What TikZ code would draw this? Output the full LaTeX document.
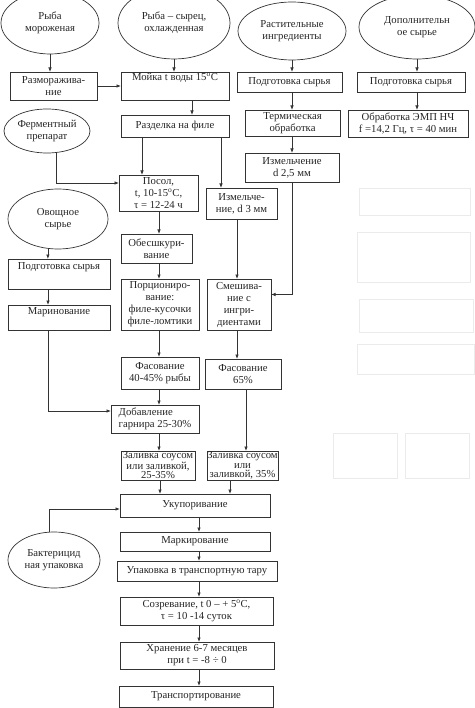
\documentclass[tikz,border=0pt]{standalone}
\usepackage{fontspec}
\setmainfont{Liberation Serif}
\usetikzlibrary{arrows.meta,shapes.geometric,calc}
\newcommand\fsz{\fontsize{10.7}{12}\selectfont}
\newcommand\mybox[7][]{\node[boxst,minimum width={#5pt-#3pt},minimum height={#6pt-#4pt},#1] (#2) at (#3,#4) {#7};}
\tikzset{
  boxst/.style={draw=black!80,rectangle,line width=0.7pt,inner sep=1pt,outer sep=0pt,align=center,font=\fsz,anchor=north west,text=black!85},
  ell/.style={draw=black!80,ellipse,line width=0.7pt,inner sep=0pt,outer sep=0pt,align=center,font=\fsz,text=black!85},
  faint/.style={draw=black!8,rectangle,line width=0.6pt,inner sep=0pt,outer sep=0pt,anchor=north west},
  arr/.style={draw=black!80,line width=0.7pt,-{Latex[length=4.5pt,width=3.5pt]}},
  ln/.style={draw=black!80,line width=0.7pt}
}
\begin{document}
\begin{tikzpicture}[x=1pt,y=-1pt]
\useasboundingbox[fill=white] (0,0) rectangle (474,708);
% ellipses
\node[ell,minimum width=98pt,minimum height=62pt] (e1) at (50,23) {Рыба\\мороженая};
\node[ell,minimum width=112pt,minimum height=72pt] (e2) at (174,23) {Рыба – сырец,\\охлажденная};
\node[ell,minimum width=108pt,minimum height=58pt] (e3) at (292,31) {Растительные\\ингредиенты};
\node[ell,minimum width=116pt,minimum height=64pt] (e4) at (417,27) {Дополнительн\\ое сырье};
\node[ell,minimum width=86pt,minimum height=44pt] (eF) at (47,131) {Ферментный\\препарат};
\node[ell,minimum width=100pt,minimum height=60pt] (eO) at (58,219) {Овощное\\сырье};
\node[ell,minimum width=92pt,minimum height=56pt] (eB) at (54,560) {Бактерицид\\ная упаковка};
% boxes
\mybox{raz}{10}{72}{97}{100}{Разморажива-\\ние}
\mybox{moyka}{121}{72}{229}{100}{Мойка t воды 15\textsuperscript{o}С\\[7pt]}
\mybox{pod3}{237}{72}{342}{92}{Подготовка сырья}
\mybox{pod4}{357}{72}{465}{92}{Подготовка сырья}
\mybox{razd}{121}{115}{229}{137}{Разделка на филе}
\mybox{term}{245}{110}{340}{136}{Термическая\\обработка}
\mybox{emp}{348}{110}{468}{137}{Обработка ЭМП НЧ\\f =14,2 Гц, τ = 40 мин}
\mybox{izm25}{245}{153}{339}{182}{Измельчение\\d 2,5 мм}
\mybox{posol}{119}{175}{198}{211}{Посол,\\t, 10-15\textsuperscript{o}C,\\τ = 12-24 ч}
\mybox{izm3}{206}{188}{277}{219}{Измельче-\\ние, d 3 мм}
\mybox{obes}{121}{234}{192}{263}{Обесшкури-\\вание}
\mybox{podL}{8}{259}{110}{289}{Подготовка сырья\\[5pt]}
\mybox{porc}{121}{279}{199}{330}{Порциониро-\\вание:\\филе-кусочки\\филе-ломтики}
\mybox{smesh}{207}{279}{271}{330}{Смешива-\\ние с\\ингри-\\диентами}
\mybox{marin}{8}{305}{110}{330}{Маринование\\[2pt]}
\mybox{fas1}{121}{357}{199}{389}{Фасование\\40-45\% рыбы}
\mybox{fas2}{205}{359}{281}{389}{Фасование\\65\%}
\mybox[align=left]{dob}{111}{405}{199}{433}{Добавление\\гарнира 25-30\%}
\mybox[inner sep=0pt,font=\fontsize{10.7}{9.4}\selectfont]{zal1}{121}{451}{195}{480}{Заливка соусом\\или заливкой,\\25-35\%}
\mybox[inner sep=0pt,font=\fontsize{10.7}{9.4}\selectfont]{zal2}{207}{451}{278}{480}{Заливка соусом\\или\\заливкой, 35\%}
\mybox{ukup}{120}{494}{270}{517}{Укупоривание}
\mybox{mark}{120}{532}{270}{551}{Маркирование}
\mybox{upak}{117}{561}{277}{581}{Упаковка в транспортную тару}
\mybox{sozr}{120}{597}{273}{625}{Созревание, t 0 – + 5\textsuperscript{o}C,\\τ = 10 -14 суток}
\mybox{hran}{120}{642}{274}{669}{Хранение 6-7 месяцев\\при t = -8 ÷ 0}
\mybox{trans}{119}{686}{273}{707}{Транспортирование}
% faint boxes
\node[faint,minimum width=111pt,minimum height=27pt] (f1) at (359,188) {};
\node[faint,minimum width=113pt,minimum height=50pt] (f2) at (357,232) {};
\node[faint,minimum width=114pt,minimum height=33pt] (f3) at (359,299) {};
\node[faint,minimum width=117pt,minimum height=30pt] (f4) at (357,344) {};
\node[faint,minimum width=64pt,minimum height=45pt] (f5) at (333,433) {};
\node[faint,minimum width=64pt,minimum height=45pt] (f6) at (405,433) {};
% column coordinates
\coordinate (cL) at (48,0);
\coordinate (cM) at (159,0);
\coordinate (cR1) at (142,0);
\coordinate (cR2) at (221,0);
\coordinate (cMo) at (192,0);
\coordinate (cSm) at (237,0);
\coordinate (cB) at (199,0);
% connectors
\draw[arr] (e1.south) -- (e1.south |- raz.north);
\draw[arr] (e2.south) -- (e2.south |- moyka.north);
\draw[arr] (e3.south) -- (e3.south |- pod3.north);
\draw[arr] (e4.south) -- (e4.south |- pod4.north);
\draw[arr] (raz.east) -- (moyka.west |- raz.east);
\draw[arr] (cMo |- moyka.south) -- (cMo |- razd.north);
\draw[arr] (e3.south |- pod3.south) -- (e3.south |- term.north);
\draw[arr] (e3.south |- term.south) -- (e3.south |- izm25.north);
\draw[arr] (e4.south |- pod4.south) -- (e4.south |- emp.north);
\draw[arr] (cR1 |- razd.south) -- (cR1 |- posol.north);
\draw[arr] (cR2 |- razd.south) -- (cR2 |- izm3.north);
\draw[arr] (e3.south |- izm25.south) |- ([yshift=10pt]smesh.east);
\draw[arr] (cSm |- izm3.south) -- (cSm |- smesh.north);
\draw[arr] (cSm |- smesh.south) -- (cSm |- fas2.north);
\draw[arr] (eF.-66) |- ([yshift=10pt]posol.west);
\draw[arr] (cM |- posol.south) -- (cM |- obes.north);
\draw[arr] (cM |- obes.south) -- (cM |- porc.north);
\draw[arr] (cM |- porc.south) -- (cM |- fas1.north);
\draw[arr] (cM |- fas1.south) -- (cM |- dob.north);
\draw[arr] (cM |- dob.south) -- (cM |- zal1.north);
\draw[arr] (eO.-109) -- (eO.-109 |- podL.north);
\draw[arr] (cL |- podL.south) -- (cL |- marin.north);
\draw[arr] (cL |- marin.south) |- ([yshift=8pt]dob.west);
\coordinate (cZ2) at (246,0);
\draw[arr] (cZ2 |- fas2.south) -- (cZ2 |- zal2.north);
\coordinate (cU1) at (160,0);
\coordinate (cU2) at (230,0);
\draw[arr] (cU1 |- zal1.south) -- (cU1 |- ukup.north);
\draw[arr] (cU2 |- zal2.south) -- (cU2 |- ukup.north);
\draw[arr] (eB.100) |- ([yshift=-3.5pt]ukup.west);
\draw[arr] (cB |- ukup.south) -- (cB |- mark.north);
\draw[arr] (cB |- mark.south) -- (cB |- upak.north);
\draw[arr] (cB |- upak.south) -- (cB |- sozr.north);
\draw[arr] (cB |- sozr.south) -- (cB |- hran.north);
\draw[arr] (cB |- hran.south) -- (cB |- trans.north);
\end{tikzpicture}
\end{document}
